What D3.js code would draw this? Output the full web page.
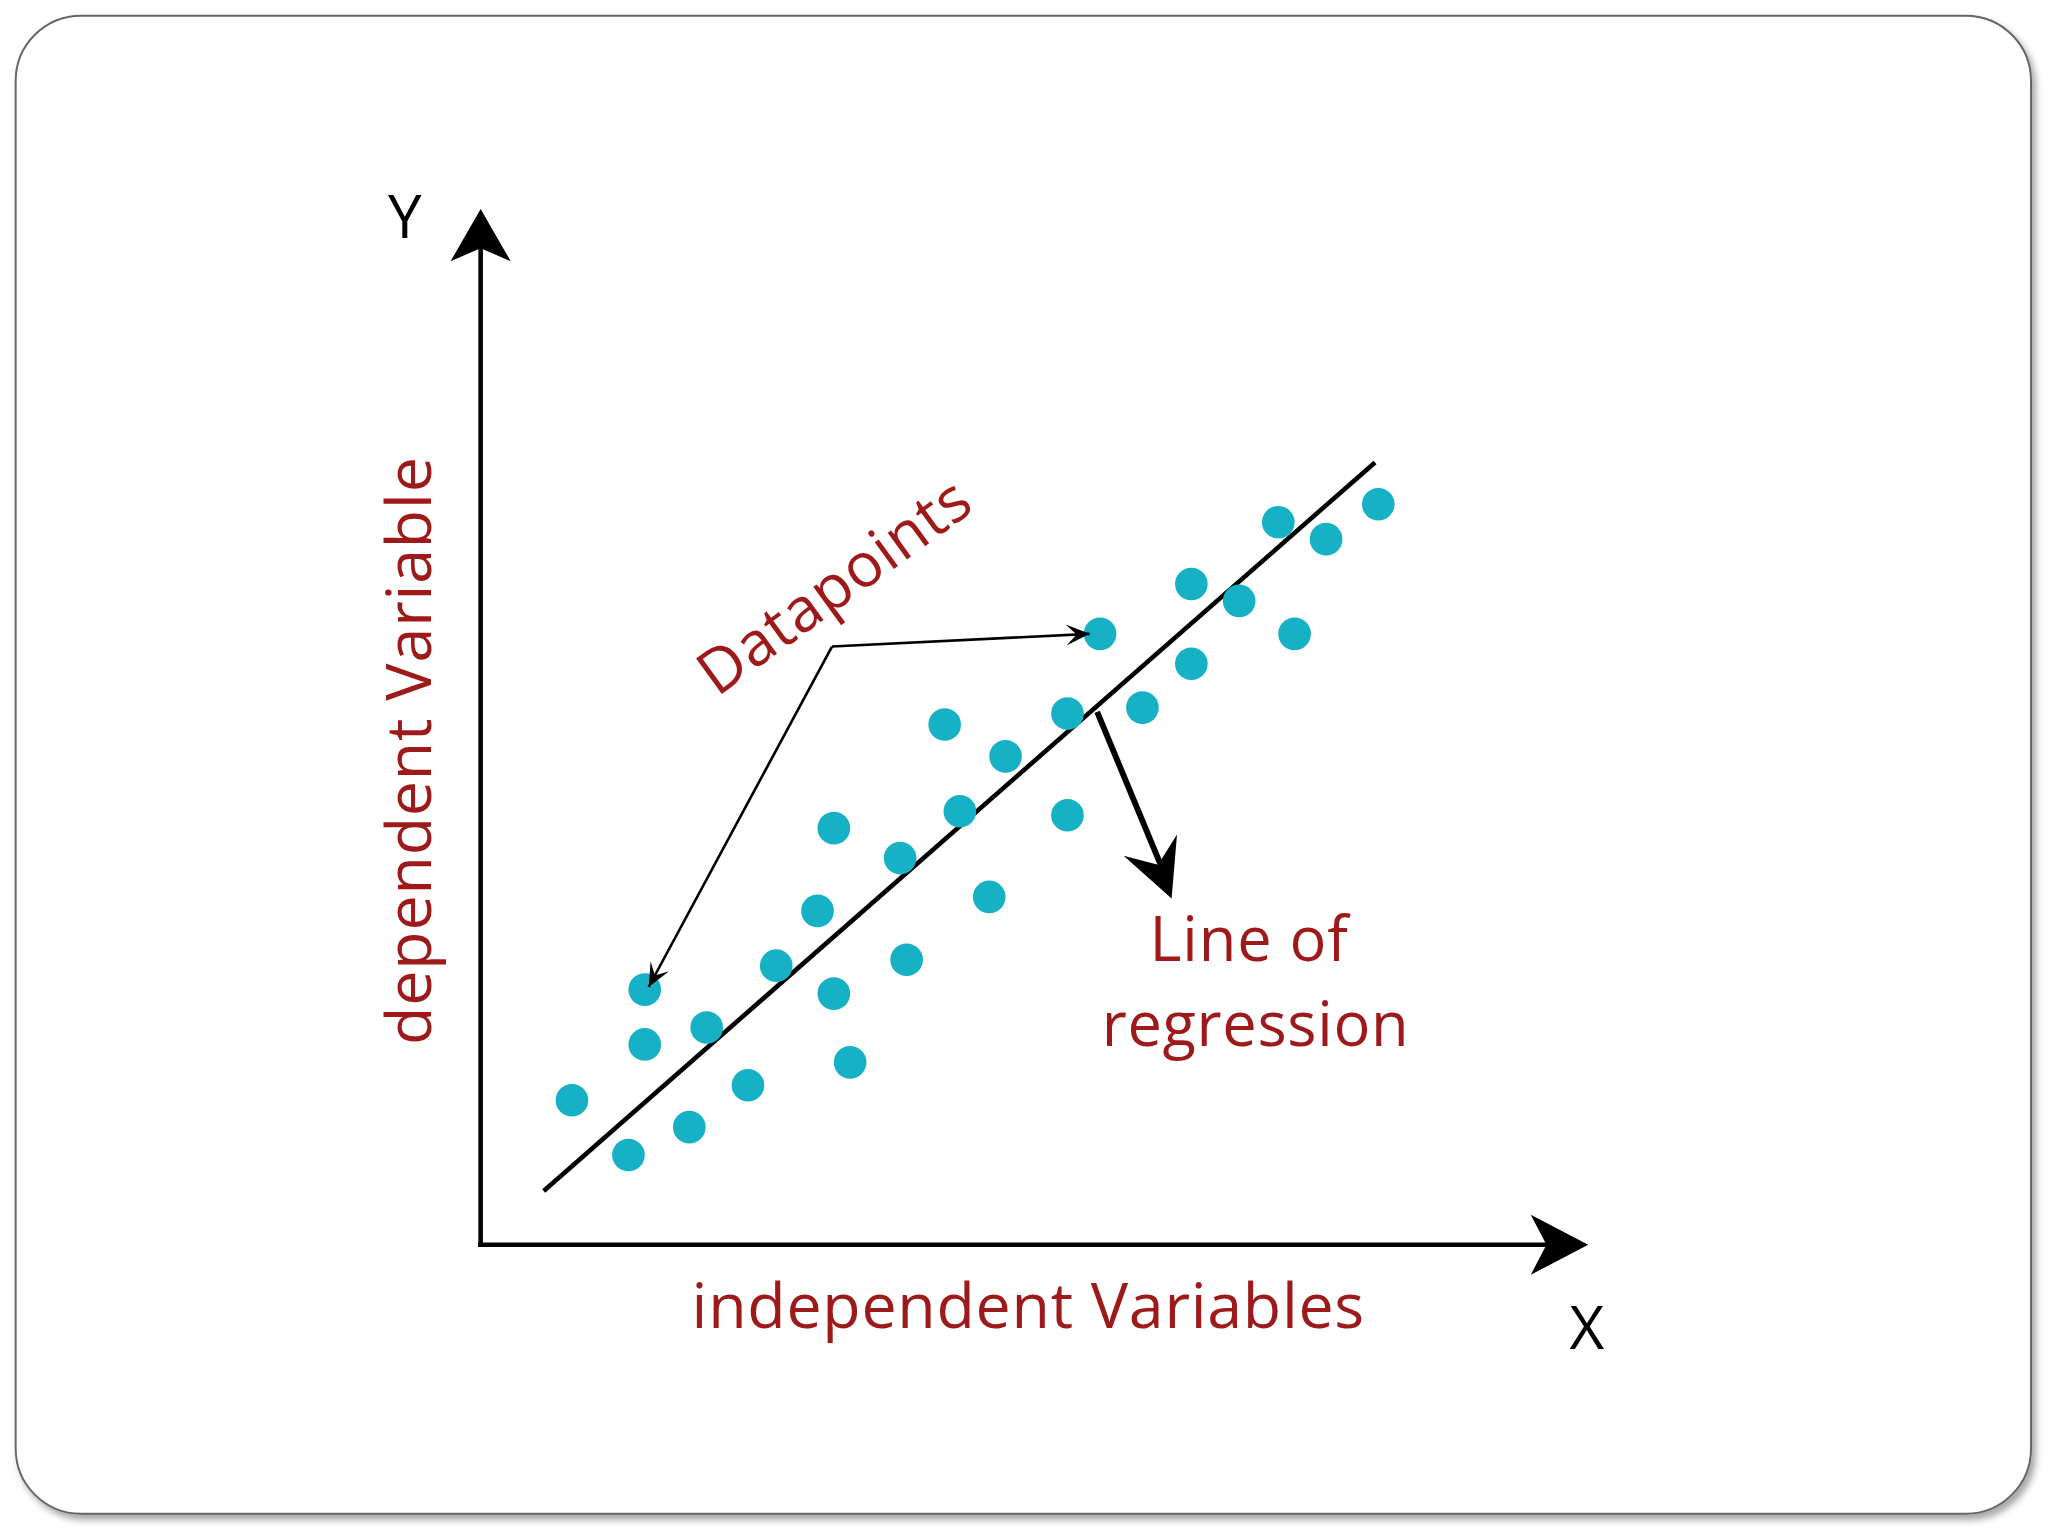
<!DOCTYPE html>
<html><head><meta charset="utf-8">
<script src="https://cdn.jsdelivr.net/npm/d3@7"></script>
<style>html,body{margin:0;padding:0;background:#fff;}svg{display:block}</style>
</head><body>
<script>
const pointsX = [8.4,13.6,15.1,15.1,19.2,20.8,24.6,27.2,31.0,32.5,32.5,34.0,38.6,39.2,42.7,44.1,46.8,48.3,54.0,54.0,57.0,60.9,65.4,65.4,69.8,73.4,74.9,77.8,82.6];
const pointsY = [14.5,9.0,20.1,25.6,11.8,21.8,16.0,28.0,33.5,41.8,25.2,18.3,38.8,28.6,52.2,43.5,34.9,49.0,53.3,43.1,61.3,53.9,66.3,58.3,64.6,72.5,61.3,70.8,74.3];
const lineX = [5.8, 82.3];
const lineY = [5.4, 78.5];
const labels = {x:"independent Variables", y:"dependent Variable", ax:"X", ay:"Y", dp:"Datapoints", lr1:"Line of", lr2:"regression"};

const W=1568,H=1176;
const svg=d3.select("body").append("svg").attr("width",2048).attr("height",1536).attr("viewBox",`0 0 ${W} ${H}`);
const defs=svg.append("defs");
const f=defs.append("filter").attr("id","sh").attr("x","-5%").attr("y","-5%").attr("width","110%").attr("height","110%");
f.append("feDropShadow").attr("dx",3).attr("dy",4).attr("stdDeviation",3).attr("flood-color","#000").attr("flood-opacity",0.35);
svg.append("rect").attr("x",12).attr("y",12).attr("width",1543).attr("height",1147).attr("rx",50)
  .attr("fill","#fff").attr("stroke","#666").attr("stroke-width",1.5).attr("filter","url(#sh)");

const x=d3.scaleLinear().domain([0,100]).range([368,1200]);
const y=d3.scaleLinear().domain([0,100]).range([953,190]);
const red="#9e1a1a", font="'Open Sans', 'Noto Sans', sans-serif";

svg.append("line").attr("x1",x(0)).attr("y1",y(0)).attr("x2",x(0)).attr("y2",185).attr("stroke","#000").attr("stroke-width",3.5);
svg.append("line").attr("x1",x(0)-2).attr("y1",y(0)).attr("x2",1195).attr("y2",y(0)).attr("stroke","#000").attr("stroke-width",3.5);
const X0=x(0),Y0=y(0);
svg.append("path").attr("d",`M${X0},160 L${X0+23},200 L${X0},190 L${X0-23},200 Z`).attr("fill","#000");
svg.append("path").attr("d",`M1216,${Y0} L1172,${Y0+23} L1184,${Y0} L1172,${Y0-23} Z`).attr("fill","#000");

svg.append("line").attr("x1",x(lineX[0])).attr("y1",y(lineY[0])).attr("x2",x(lineX[1])).attr("y2",y(lineY[1])).attr("stroke","#000").attr("stroke-width",3.5);

svg.selectAll("circle.pt").data(pointsX.map((v,i)=>[v,pointsY[i]])).join("circle").attr("class","pt")
  .attr("cx",d=>x(d[0])).attr("cy",d=>y(d[1])).attr("r",12.5).attr("fill","#17b1c5");

const hub=[637,495];
function thinArrow(tx,ty){
  svg.append("line").attr("x1",hub[0]).attr("y1",hub[1]).attr("x2",tx).attr("y2",ty).attr("stroke","#000").attr("stroke-width",2);
  const a=Math.atan2(ty-hub[1],tx-hub[0]);
  const L=18,w=8;
  const bx=tx-L*Math.cos(a),by=ty-L*Math.sin(a);
  const px=-Math.sin(a)*w,py=Math.cos(a)*w;
  svg.append("path").attr("d",`M${tx},${ty} L${bx+px},${by+py} L${tx-10*Math.cos(a)},${ty-10*Math.sin(a)} L${bx-px},${by-py} Z`).attr("fill","#000");
}
thinArrow(x(pointsX[20])-8,y(pointsY[20]));
thinArrow(x(pointsX[3])+3,y(pointsY[3])-2);

const s=[840,545],t=[897,688];
svg.append("line").attr("x1",s[0]).attr("y1",s[1]).attr("x2",t[0]-8).attr("y2",t[1]-25).attr("stroke","#000").attr("stroke-width",4.5);
(function(){const a=Math.atan2(t[1]-s[1],t[0]-s[0]);const L=44,w=22;
 const bx=t[0]-L*Math.cos(a),by=t[1]-L*Math.sin(a);const px=-Math.sin(a)*w,py=Math.cos(a)*w;
 svg.append("path").attr("d",`M${t[0]},${t[1]} L${bx+px},${by+py} L${t[0]-28*Math.cos(a)},${t[1]-28*Math.sin(a)} L${bx-px},${by-py} Z`).attr("fill","#000");})();

svg.append("text").attr("x",787).attr("y",1017).attr("text-anchor","middle").attr("font-family",font).attr("font-size",48).attr("fill",red).attr("textLength",515).text(labels.x);
svg.append("text").attr("transform","translate(330,575) rotate(-90)").attr("text-anchor","middle").attr("font-family",font).attr("font-size",48).attr("fill",red).attr("textLength",450).text(labels.y);
svg.append("text").attr("x",310).attr("y",182).attr("text-anchor","middle").attr("font-family",font).attr("font-size",46).attr("fill","#000").text(labels.ay);
svg.append("text").attr("x",1215).attr("y",1033).attr("text-anchor","middle").attr("font-family",font).attr("font-size",46).attr("fill","#000").text(labels.ax);
svg.append("text").attr("transform","translate(648,462) rotate(-36)").attr("text-anchor","middle").attr("font-family",font).attr("font-size",47).attr("fill",red).attr("textLength",245).text(labels.dp);
svg.append("text").attr("x",956).attr("y",736).attr("text-anchor","middle").attr("font-family",font).attr("font-size",47).attr("fill",red).attr("textLength",152).text(labels.lr1);
svg.append("text").attr("x",961).attr("y",801).attr("text-anchor","middle").attr("font-family",font).attr("font-size",47).attr("fill",red).attr("textLength",235).text(labels.lr2);
</script>
</body></html>
